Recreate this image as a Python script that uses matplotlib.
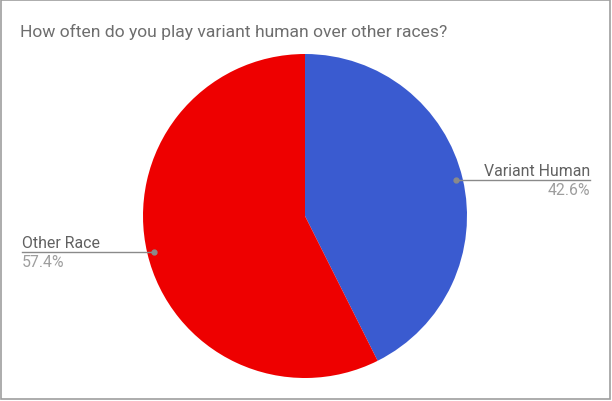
import numpy as np
import matplotlib.pyplot as plt
from matplotlib.patches import Rectangle

plt.rcParams['font.family'] = ['Roboto', 'DejaVu Sans']

title = "How often do you play variant human over other races?"
labels = ["Variant Human", "Other Race"]
shares = [42.6, 57.4]
colors = ["#3a5bd0", "#ee0000"]

W, H = 612, 402
cx, cy, R = 305, H - 217, 162

fig = plt.figure(figsize=(W / 100, H / 100), dpi=100)
ax = fig.add_axes([0, 0, 1, 1])

wedges, _ = ax.pie(shares, colors=colors, startangle=90, counterclock=False,
                   center=(cx, cy), radius=R, frame=True,
                   wedgeprops=dict(linewidth=0))
ax.set_xlim(0, W)
ax.set_ylim(0, H)
ax.axis("off")

# frame around the chart
ax.add_patch(Rectangle((1, 2), 609, 399, fill=False, edgecolor="#9e9e9e",
                       linewidth=1.2))

ax.text(20, H - 37, title, fontsize=12.6, color="#6e6e6e", va="baseline")

# leader lines: right label for first slice, left label for second
for w, name, val in zip(wedges, labels, shares):
    mid = np.deg2rad((w.theta1 + w.theta2) / 2)
    px = cx + 0.955 * R * np.cos(mid)
    py = cy + 0.955 * R * np.sin(mid)
    if px > cx:
        x_end = 590
        ha = "right"
    else:
        x_end = 22
        ha = "left"
    ax.plot([px, x_end], [py, py], color="#8a8a8a", linewidth=1)
    ax.plot(px, py, "o", color="#8a8a8a", markersize=3.5)
    ax.text(x_end, py + 5, name, fontsize=11.4, color="#616161",
            ha=ha, va="baseline")
    ax.text(x_end, py - 14, "%.1f%%" % val, fontsize=11.4, color="#9e9e9e",
            ha=ha, va="baseline")

fig.savefig("out.png", dpi=100)
